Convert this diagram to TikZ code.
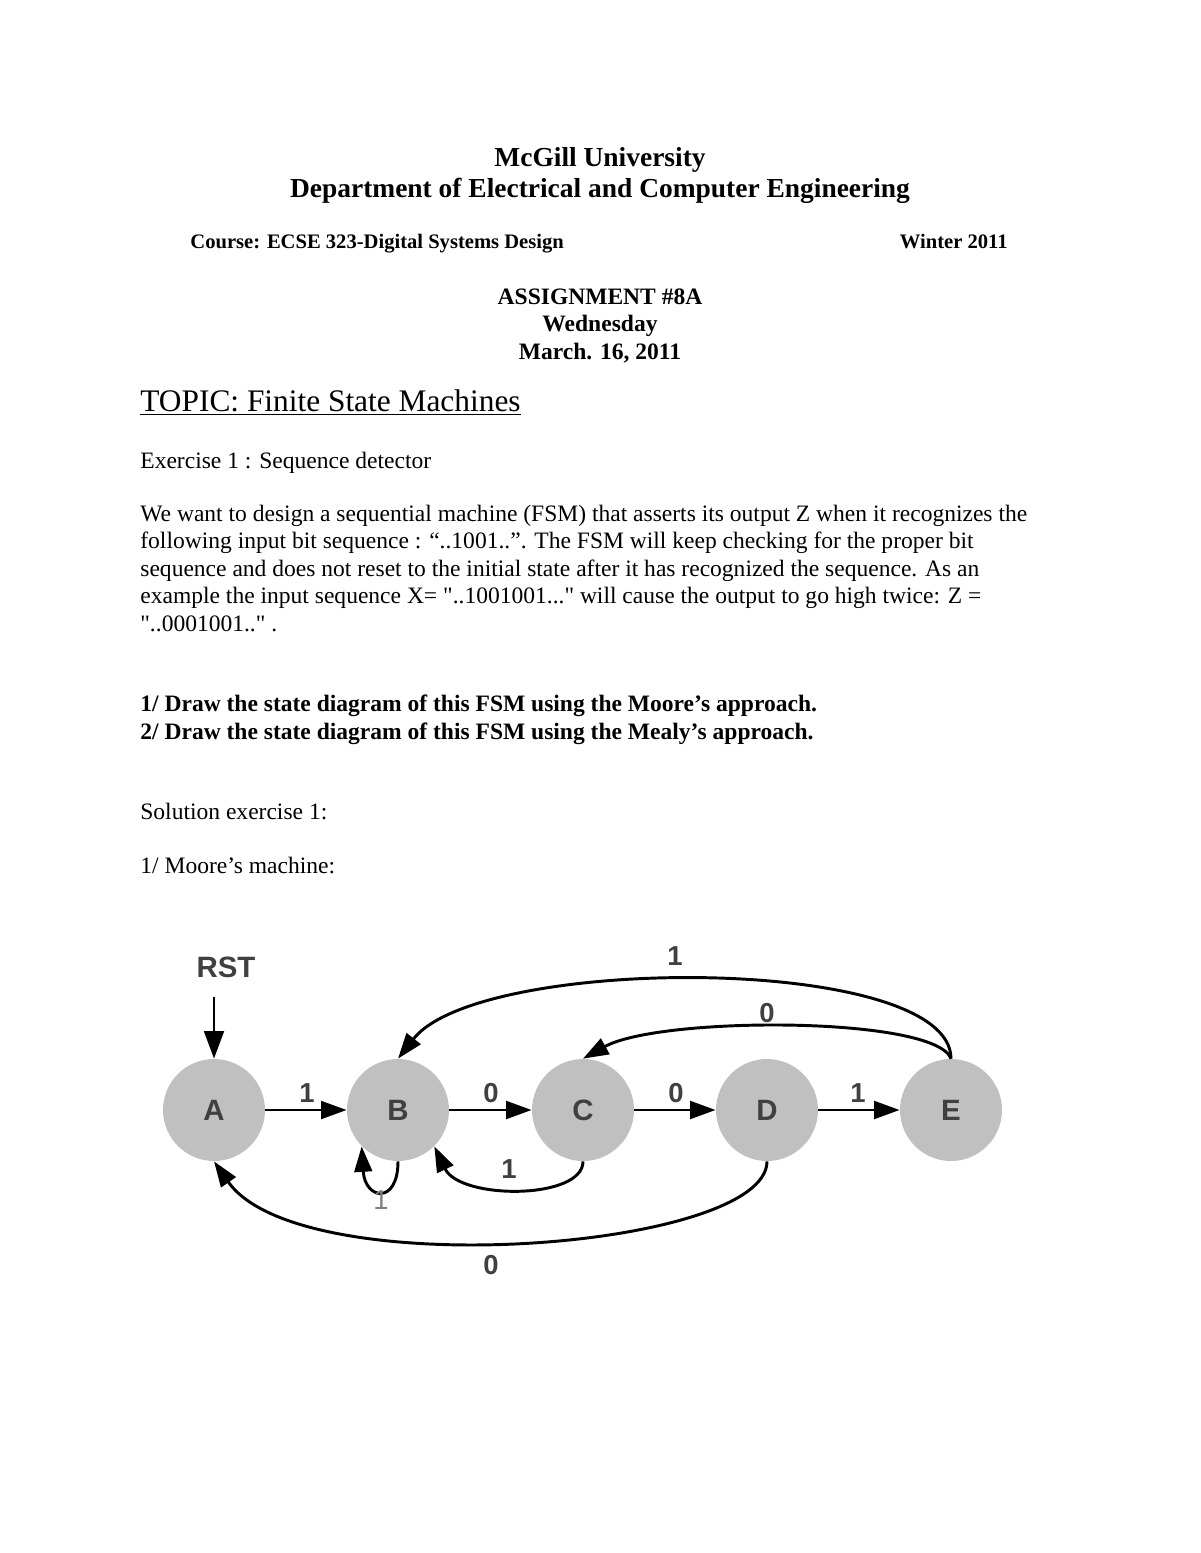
\documentclass[tikz,border=0pt]{standalone}
\usepackage{fontspec}
\setmainfont{Liberation Serif}[Ligatures=TeXOff]
\newfontfamily\arialfont{Liberation Sans}
\usetikzlibrary{arrows.meta}
\definecolor{circfill}{HTML}{C0C0C0}
\definecolor{lettercol}{HTML}{404040}
\begin{document}
\begin{tikzpicture}[x=0.51pt,y=-0.51pt,
  bodytxt/.style={anchor=base west, inner sep=0pt, font=\fontsize{12}{14}\selectfont},
  boldtxt/.style={anchor=base west, inner sep=0pt, font=\bfseries\fontsize{12}{14}\selectfont},
  headtxt/.style={anchor=base, inner sep=0pt, font=\bfseries\fontsize{14}{16}\selectfont},
  subhead/.style={anchor=base, inner sep=0pt, font=\bfseries\fontsize{12}{14}\selectfont},
  state/.style={circle, fill=circfill, minimum size=52pt, inner sep=0pt,
    text=lettercol, font=\arialfont\bfseries\fontsize{15}{18}\selectfont},
  lbl/.style={inner sep=0pt, text=lettercol, font=\arialfont\bfseries\fontsize{14}{16}\selectfont},
  conn/.style={line width=1.5pt, -{Triangle[length=13pt,width=9pt]}}
]
\path[use as bounding box, fill=white] (0,0) rectangle (1200,1553);

% header
\node[headtxt] (h1) at (600,167) {McGill University};
\node[headtxt] (h2) at (600,198) {Department of Electrical and Computer Engineering};
\node[anchor=base west, inner sep=0pt, font=\bfseries\fontsize{10.5}{12}\selectfont] (course) at (190,248) {Course: ECSE 323-Digital Systems Design};
\node[anchor=base east, inner sep=0pt, font=\bfseries\fontsize{10.5}{12}\selectfont] (winter) at (1008,248) {Winter 2011};
\node[subhead] (as) at (600,304) {ASSIGNMENT \#8A};
\node[subhead] (wed) at (600,331) {Wednesday};
\node[subhead] (date) at (600,359) {March. 16, 2011};

\node[anchor=base west, inner sep=0pt, font=\fontsize{16}{19}\selectfont] (topic) at (140,411) {\underline{TOPIC: Finite State Machines}};
\node[bodytxt] (ex) at (140,468) {Exercise 1 : Sequence detector};

\node[bodytxt] (p1) at (140,521) {We want to design a sequential machine (FSM) that asserts its output Z when it recognizes the};
\node[bodytxt] (p2) at (140,548) {following input bit sequence : “..1001..”. The FSM will keep checking for the proper bit};
\node[bodytxt] (p3) at (140,576) {sequence and does not reset to the initial state after it has recognized the sequence. As an};
\node[bodytxt] (p4) at (140,603) {example the input sequence X= "..1001001..." will cause the output to go high twice: Z =};
\node[bodytxt] (p5) at (140,631) {"..0001001.." .};

\node[boldtxt] (q1) at (140,711) {1/ Draw the state diagram of this FSM using the Moore’s approach.};
\node[boldtxt] (q2) at (140,739) {2/ Draw the state diagram of this FSM using the Mealy’s approach.};

\node[bodytxt] (sol) at (140,819) {Solution exercise 1:};
\node[bodytxt] (moore) at (140,873) {1/ Moore’s machine:};

% diagram
\node[lbl, font=\arialfont\bfseries\fontsize{15}{18}\selectfont] (rst) at (226,967) {RST};
\coordinate (rststart) at (214,997);
\node[state] (A) at (214,1110) {A};
\node[state] (B) at (398,1110) {B};
\node[state] (C) at (583,1110) {C};
\node[state] (D) at (767,1110) {D};
\node[state] (E) at (951,1110) {E};

\draw[conn, -{Triangle[length=14pt,width=10pt]}] (rststart) -- (A.north);
\draw[conn] (A) -- (B);
\draw[conn] (B) -- (C);
\draw[conn] (C) -- (D);
\draw[conn] (D) -- (E);
\draw[conn] (E.north) .. controls (951,954) and (480,954) .. (B.north);
\draw[conn] (E.north) .. controls (935,1016) and (660,1016) .. (C.north);
\draw[conn] (C.south) .. controls (583,1200) and (460,1200) .. (B.-45);
\draw[conn] (D.south) .. controls (767,1250) and (300,1285) .. (A.south);
\draw[conn] (B.south) .. controls (398,1205) and (365,1200) .. (B.-135);

\node[lbl] (l1) at (307,1093) {1};
\node[lbl] (l2) at (491,1093) {0};
\node[lbl] (l3) at (676,1093) {0};
\node[lbl] (l4) at (858,1093) {1};
\node[lbl] (l5) at (675,956) {1};
\node[lbl] (l6) at (767,1013) {0};
\node[lbl] (l7) at (509,1169) {1};
\node[lbl] (l8) at (491,1265) {0};
\node[inner sep=0pt, text=gray, font=\arialfont\fontsize{14}{16}\selectfont] (l9) at (381,1200) {1};
\end{tikzpicture}
\end{document}
